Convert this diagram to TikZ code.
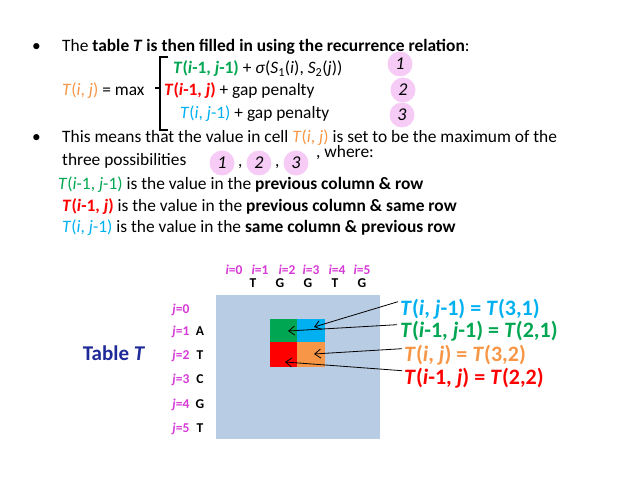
\documentclass[tikz,border=0pt]{standalone}
\usepackage{fontspec}
\setmainfont{Carlito}
\usetikzlibrary{arrows.meta}
\definecolor{cg}{HTML}{00A651}
\definecolor{cr}{HTML}{FF0000}
\definecolor{co}{HTML}{F79646}
\definecolor{cb}{HTML}{00B0F0}
\definecolor{cm}{HTML}{D63AD6}
\definecolor{tbl}{HTML}{B8CCE4}
\definecolor{pinkc}{HTML}{F6CCF6}
\definecolor{navy}{HTML}{1F2A99}
\tikzset{
  txt/.style={anchor=base west,inner sep=0pt,font=\fontsize{17.4}{20}\selectfont},
  num/.style={circle,fill=pinkc,minimum size=25pt,inner sep=0pt,font=\fontsize{18}{18}\selectfont\itshape},
  lbl/.style={anchor=base,inner sep=0pt,font=\fontsize{13.5}{14}\selectfont\bfseries},
  big/.style={anchor=base west,inner sep=0pt,font=\fontsize{22}{24}\selectfont\bfseries},
  arr/.style={thick,black,-{Straight Barb[length=6pt,width=9pt]}}
}
\newcommand{\ti}[1]{\textit{#1}}
\begin{document}
\begin{tikzpicture}[x=1pt,y=-1pt]
\useasboundingbox (0,0) rectangle (638,478);
\node[txt] (b1) at (32,52) {•};
\node[txt] (b2) at (32,143) {•};
\node[txt] (l1) at (62,52) {The \textbf{table \textit{T} is then filled in using the recurrence relation}:};
\node[num] (c1) at (400,64) {1};
\node[num] (c2) at (403,90) {2};
\node[num] (c3) at (402,115) {3};
\node[txt] (l2) at (173,74) {\textcolor{cg}{\textbf{\ti{T}(\ti{i}-1, \ti{j}-1)}} + \ti{σ}(\ti{S}\textsubscript{1}(\ti{i}), \ti{S}\textsubscript{2}(\ti{j}))};
\node[txt] (l3a) at (62,96) {\textcolor{co}{\ti{T}(\ti{i}, \ti{j})} = max};
\node[txt] (l3b) at (164,96) {\textcolor{cr}{\textbf{\ti{T}(\ti{i}-1, \ti{j})}} + gap penalty};
\node[txt] (l4) at (180,119) {\textcolor{cb}{\ti{T}(\ti{i}, \ti{j}-1)} + gap penalty};
\draw[line width=1.2pt] (168,57) -- (160,57) -- (160,130) -- (168,130);
\draw[line width=1.2pt] (155,88) -- (160,88);
\node[txt] (l5) at (62,143) {This means that the value in cell \textcolor{co}{\ti{T}(\ti{i}, \ti{j})} is set to be the maximum of the};
\node[txt] (l6) at (62,166) {three possibilities};
\node[num] (d1) at (222,163) {1};
\node[num] (d2) at (259,163) {2};
\node[num] (d3) at (296,163) {3};
\node[txt] (cm1) at (238,167) {,};
\node[txt] (cm2) at (275,167) {,};
\node[txt] (wh) at (316,158) {, where:};
\node[txt] (l7) at (58,190) {\textcolor{cg}{\ti{T}(\ti{i}-1, \ti{j}-1)} is the value in the \textbf{previous column \& row}};
\node[txt] (l8) at (62,212) {\textcolor{cr}{\textbf{\ti{T}(\ti{i}-1, \ti{j})}} is the value in the \textbf{previous column \& same row}};
\node[txt] (l9) at (62,233) {\textcolor{cb}{\ti{T}(\ti{i}, \ti{j}-1)} is the value in the \textbf{same column \& previous row}};
\fill[tbl] (216,295) rectangle (380,439);
\fill[cg] (270,319) rectangle (297,342);
\fill[cb] (297,319) rectangle (325,342);
\fill[cr] (270,342) rectangle (297,367);
\fill[co] (297,342) rectangle (325,367);
\coordinate (gc) at (288,331);
\coordinate (bc) at (314,327);
\coordinate (oc) at (314,354);
\coordinate (rc) at (285,362);
\foreach \x/\n in {234/0,260/1,287/2,311/3,337/4,362/5}
  \node[lbl,text=cm] (i\n) at (\x,275) {\ti{i}=\n};
\foreach \x/\s [count=\k] in {253/T,280/G,308/G,335/T,362/G}
  \node[lbl] (s\k) at (\x,288) {\s};
\foreach \y/\n in {314/0,336/1,360/2,384/3,409/4,433/5}
  \node[lbl,text=cm] (j\n) at (181,\y) {\ti{j}=\n};
\foreach \y/\s [count=\k] in {336/A,360/T,384/C,409/G,433/T}
  \node[lbl] (t\k) at (200,\y) {\s};
\node[anchor=base,inner sep=0pt,font=\fontsize{21}{22}\selectfont\bfseries,text=navy] (tt) at (114,361) {Table \ti{T}};
\node[big,text=cb] (rb) at (400,316) {\ti{T}(\ti{i}, \ti{j}-1) = \ti{T}(3,1)};
\node[big,text=cg] (rg) at (400,338) {\ti{T}(\ti{i}-1, \ti{j}-1) = \ti{T}(2,1)};
\node[big,text=co] (ro) at (404,362) {\ti{T}(\ti{i}, \ti{j}) = \ti{T}(3,2)};
\node[big,text=cr] (rr) at (404,385) {\ti{T}(\ti{i}-1, \ti{j}) = \ti{T}(2,2)};
\draw[arr] (rb.west) ++(-2,-8) -- (bc);
\draw[arr] (rg.west) ++(-3,-7) -- (gc);
\draw[arr] (ro.west) ++(-2,-7) -- (oc);
\draw[arr] (rr.west) ++(-2,-8) -- (rc);
\end{tikzpicture}
\end{document}
